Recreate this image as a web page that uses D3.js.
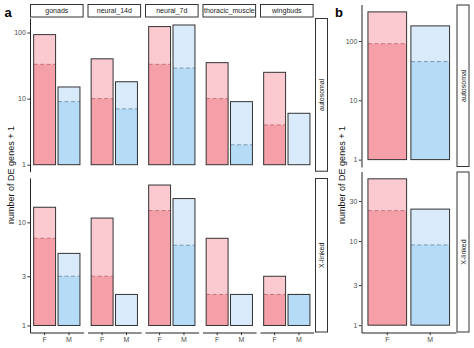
<!DOCTYPE html>
<html>
<head>
<meta charset="utf-8">
<script src="https://cdn.jsdelivr.net/npm/d3@7"></script>
<style>
  body { margin: 0; background: #fff; }
  text { font-family: "Liberation Sans", Arial, sans-serif; }
</style>
</head>
<body>
<div id="chart"></div>
<script>
// values are "number of DE genes + 1"; "shared" is the dashed-line level
var tissues = ["gonads", "neural_14d", "neural_7d", "thoracic_muscle", "wingbuds"];
var sexes = ["F", "M"];
var rows = ["autosomal", "X-linked"];

var autoTotalF = [93, 40, 123, 35, 25];
var autoSharedF = [33, 10, 33, 10, 4];
var autoTotalM = [15, 18, 130, 9, 6];
var autoSharedM = [9, 7, 29, 2, 1];

var xTotalF = [14, 11, 23, 7, 3];
var xSharedF = [7, 3, 13, 2, 2];
var xTotalM = [5, 2, 17, 2, 2];
var xSharedM = [3, 1, 6, 1, 2];

var allTotalF = [310, 55];
var allSharedF = [90, 23];
var allTotalM = [180, 24];
var allSharedM = [45, 9];

var ticksA = [[1, 10, 100], [1, 3, 10]];
var ticksB = [[1, 10, 100], [1, 3, 10, 30]];

var lightFill = { F: "#fbcad1", M: "#d9eafa" };
var darkFill = { F: "#f59fa9", M: "#b5dbf7" };
var dashColor = { F: "#c4737e", M: "#7c9bb3" };

var svg = d3.select("#chart").append("svg")
    .attr("width", 474)
    .attr("height", 348);

function logScale(maxVal, top, bottom) {
    var hi = Math.log10(maxVal);
    var e = hi * 0.05;
    return d3.scaleLog()
        .domain([Math.pow(10, -e), Math.pow(10, hi + e)])
        .range([bottom, top]);
}

function drawBars(g, x, y, bars) {
    var bw = x.bandwidth();
    var bar = g.selectAll(".bar")
        .data(bars)
        .enter()
        .append("g")
        .attr("class", "bar");

    bar.append("rect")
        .attr("x", function(d) { return x(d.sex); })
        .attr("y", function(d) { return y(d.total); })
        .attr("width", bw)
        .attr("height", function(d) { return y(1) - y(d.total); })
        .attr("fill", function(d) { return lightFill[d.sex]; });

    bar.append("rect")
        .attr("x", function(d) { return x(d.sex); })
        .attr("y", function(d) { return y(d.shared); })
        .attr("width", bw)
        .attr("height", function(d) { return y(1) - y(d.shared); })
        .attr("fill", function(d) { return darkFill[d.sex]; });

    bar.filter(function(d) { return d.shared > 1; })
        .append("line")
        .attr("x1", function(d) { return x(d.sex); })
        .attr("x2", function(d) { return x(d.sex) + bw; })
        .attr("y1", function(d) { return y(d.shared); })
        .attr("y2", function(d) { return y(d.shared); })
        .attr("stroke", function(d) { return dashColor[d.sex]; })
        .attr("stroke-width", 1)
        .attr("stroke-dasharray", "4,2.5");

    bar.append("rect")
        .attr("x", function(d) { return x(d.sex); })
        .attr("y", function(d) { return y(d.total); })
        .attr("width", bw)
        .attr("height", function(d) { return y(1) - y(d.total); })
        .attr("fill", "none")
        .attr("stroke", "#333")
        .attr("stroke-width", 1);
}

function drawYAxis(x0, y, ticks) {
    var ax = svg.append("g")
        .attr("transform", "translate(" + x0 + ",0)")
        .call(d3.axisLeft(y).tickValues(ticks).tickFormat(d3.format("d"))
            .tickSize(2.7).tickSizeOuter(0).tickPadding(1.5));
    ax.select(".domain").attr("stroke", "#222").attr("stroke-width", 1);
    ax.selectAll(".tick line").attr("stroke", "#333");
    ax.selectAll(".tick text").attr("fill", "#4d4d4d").style("font-size", "7px");
}

function drawXAxis(y0, x) {
    var ax = svg.append("g")
        .attr("transform", "translate(0," + y0 + ")")
        .call(d3.axisBottom(x).tickSize(2.7).tickSizeOuter(0).tickPadding(1.5));
    ax.select(".domain").attr("stroke", "#222").attr("stroke-width", 1);
    ax.selectAll(".tick line").attr("stroke", "#333");
    ax.selectAll(".tick text").attr("fill", "#4d4d4d").style("font-size", "7px");
}

function drawStripTop(x0, x1, y0, y1, label) {
    svg.append("rect")
        .attr("x", x0 + 0.5).attr("y", y0 + 0.5)
        .attr("width", x1 - x0 - 1).attr("height", y1 - y0 - 1)
        .attr("fill", "#fff").attr("stroke", "#333").attr("stroke-width", 1);
    svg.append("text")
        .attr("x", (x0 + x1) / 2).attr("y", (y0 + y1) / 2 + 2.5)
        .attr("text-anchor", "middle")
        .style("font-size", "7px")
        .attr("fill", "#1a1a1a")
        .text(label);
}

function drawStripRight(x0, x1, y0, y1, label) {
    svg.append("rect")
        .attr("x", x0 + 0.5).attr("y", y0 + 0.5)
        .attr("width", x1 - x0 - 1).attr("height", y1 - y0 - 1)
        .attr("fill", "#fff").attr("stroke", "#333").attr("stroke-width", 1);
    var cx = (x0 + x1) / 2, cy = (y0 + y1) / 2;
    svg.append("text")
        .attr("transform", "translate(" + (cx + 2.5) + "," + cy + ") rotate(-90)")
        .attr("text-anchor", "middle")
        .style("font-size", "7px")
        .attr("fill", "#1a1a1a")
        .text(label);
}

function yTitle(x, cy) {
    svg.append("text")
        .attr("transform", "translate(" + x + "," + cy + ") rotate(-90)")
        .attr("text-anchor", "middle")
        .style("font-size", "9px")
        .attr("fill", "#111")
        .text("number of DE genes + 1");
}

// ---------- panel a ----------
var rowTopA = [[18, 171.7], [178, 332.5]];
var rowMaxA = [d3.max(autoTotalF.concat(autoTotalM)), d3.max(xTotalF.concat(xTotalM))];
var colX0 = 30, colW = 53.6, colStep = 57.5;
var dataA = [
    { totF: autoTotalF, shF: autoSharedF, totM: autoTotalM, shM: autoSharedM },
    { totF: xTotalF, shF: xSharedF, totM: xTotalM, shM: xSharedM }
];

rows.forEach(function(row, r) {
    var y = logScale(rowMaxA[r], rowTopA[r][0], rowTopA[r][1]);
    tissues.forEach(function(t, i) {
        var x0 = colX0 + i * colStep;
        var x = d3.scaleBand().domain(sexes).range([x0, x0 + colW])
            .paddingInner(0.1).paddingOuter(0.15);
        var d = dataA[r];
        var bars = [
            { sex: "F", total: d.totF[i], shared: d.shF[i] },
            { sex: "M", total: d.totM[i], shared: d.shM[i] }
        ];
        drawBars(svg.append("g"), x, y, bars);
        if (r === 1) drawXAxis(rowTopA[r][1], x);
        if (r === 0) drawStripTop(x0, x0 + colW, 4, 17.5, t);
    });
    drawYAxis(colX0, y, ticksA[r]);
    drawStripRight(315, 328, rowTopA[r][0], rowTopA[r][1], row);
});

yTitle(14, 175);
svg.append("text").attr("x", 4.5).attr("y", 17)
    .style("font-size", "13px").style("font-weight", "bold").attr("fill", "#000").text("a");

// ---------- panel b ----------
var rowTopB = [[4.5, 167], [171.5, 332.5]];
var bX0 = 361.5, bX1 = 456;
rows.forEach(function(row, r) {
    var y = logScale(Math.max(allTotalF[r], allTotalM[r]), rowTopB[r][0], rowTopB[r][1]);
    var x = d3.scaleBand().domain(sexes).range([bX0, bX1])
        .paddingInner(0.1).paddingOuter(0.15);
    var bars = [
        { sex: "F", total: allTotalF[r], shared: allSharedF[r] },
        { sex: "M", total: allTotalM[r], shared: allSharedM[r] }
    ];
    drawBars(svg.append("g"), x, y, bars);
    drawYAxis(bX0, y, ticksB[r]);
    if (r === 1) drawXAxis(rowTopB[r][1], x);
    drawStripRight(456.5, 469.5, rowTopB[r][0], rowTopB[r][1], row);
});

yTitle(345, 175);
svg.append("text").attr("x", 335).attr("y", 17)
    .style("font-size", "13px").style("font-weight", "bold").attr("fill", "#000").text("b");
</script>
</body>
</html>
